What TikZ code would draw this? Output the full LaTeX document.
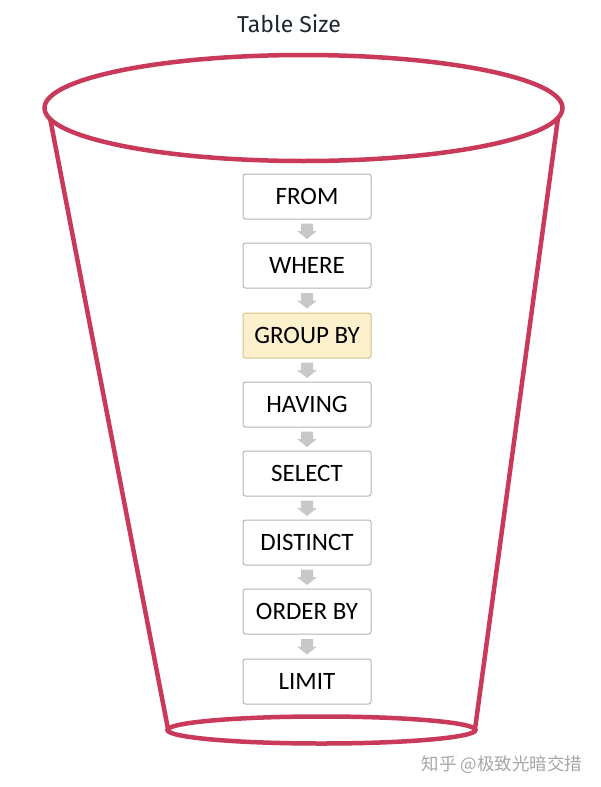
\documentclass[tikz,border=0pt]{standalone}
\usepackage{fontspec}
\setmainfont{Carlito}
\newfontfamily\titlefont{Fira Sans}
\newfontfamily\cjkfont{Noto Sans CJK SC}
\definecolor{cupred}{HTML}{C93A5A}
\definecolor{boxgrey}{HTML}{B4B4B4}
\definecolor{arrgrey}{HTML}{C8C8C8}
\definecolor{ylwfill}{HTML}{FDF0CC}
\definecolor{ylwdraw}{HTML}{D5C08A}
\definecolor{titlecol}{HTML}{1E2833}
\begin{document}
\begin{tikzpicture}[x=1pt,y=-1pt,
  stepbox/.style={draw=boxgrey,line width=1pt,rounded corners=2.5pt,fill=white,minimum width=128pt,minimum height=45pt,inner sep=0pt,font=\fontsize{25}{28}\selectfont,text=black},
  hlbox/.style={stepbox,fill=ylwfill,draw=ylwdraw},
  cup/.style={draw=cupred,line width=4.5pt}]
\useasboundingbox (0,0) rectangle (600,787);
\node[font=\titlefont\fontsize{23}{26}\selectfont,text=titlecol] (title) at (289,24) {Table Size};
% cup
\draw[cup] (303.5,108) ellipse [x radius=259,y radius=53];
\draw[cup] (321.5,730) ellipse [x radius=154,y radius=13.5];
\coordinate (tl) at (50,118);
\coordinate (bl) at (168,729);
\coordinate (tr) at (558,118);
\coordinate (br) at (475,729);
\draw[cup] (tl) -- (bl);
\draw[cup] (tr) -- (br);
% boxes
\node[stepbox] (n1) at (307,196.5) {FROM};
\node[stepbox] (n2) at (307,265.5) {WHERE};
\node[hlbox] (n3) at (307,335.5) {GROUP BY};
\node[stepbox] (n4) at (307,404.5) {HAVING};
\node[stepbox] (n5) at (307,473.5) {SELECT};
\node[stepbox] (n6) at (307,542.5) {DISTINCT};
\node[stepbox] (n7) at (307,611.5) {ORDER BY};
\node[stepbox] (n8) at (307,681.5) {LIMIT};
% arrows
\foreach \a/\b in {n1/n2,n2/n3,n3/n4,n4/n5,n5/n6,n6/n7,n7/n8}{
  \path (\a.south) -- (\b.north) coordinate[pos=0.5] (m-\a);
  \fill[arrgrey] ([xshift=-6pt,yshift=7.5pt]m-\a) -- ([xshift=6pt,yshift=7.5pt]m-\a)
    -- ([xshift=6pt,yshift=0pt]m-\a) -- ([xshift=10pt,yshift=0pt]m-\a)
    -- ([yshift=-8pt]m-\a) -- ([xshift=-10pt,yshift=0pt]m-\a) -- ([xshift=-6pt,yshift=0pt]m-\a) -- cycle;
}
\node[font=\cjkfont\fontsize{17.5}{20}\selectfont,text=black!35,anchor=east] (wm) at (586,765) {知乎 @极致光暗交措};
\end{tikzpicture}
\end{document}
